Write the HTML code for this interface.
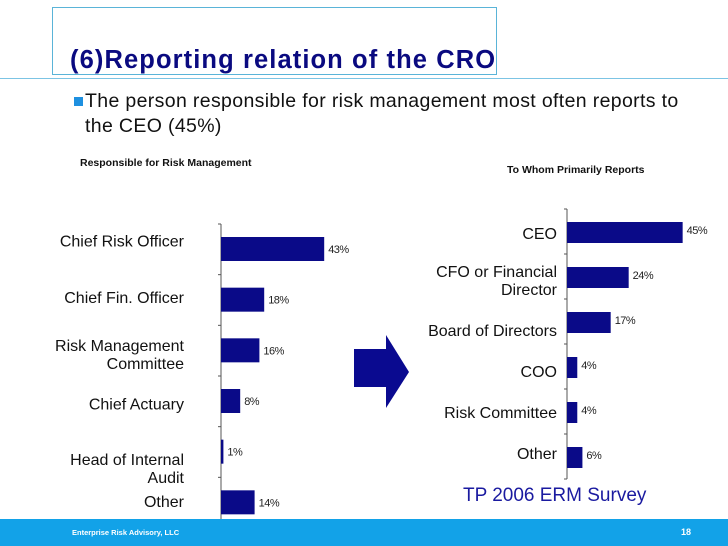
<!DOCTYPE html>
<html><head><meta charset="utf-8"><style>
body{margin:0;width:728px;height:546px;overflow:hidden;background:#fff;font-family:"Liberation Sans",Arial,sans-serif;position:relative}
.abs{position:absolute}
</style></head><body>
<div class="abs" style="left:52px;top:7px;width:443px;height:66px;border:1px solid #5ab4d8"></div>
<div class="abs" style="left:0;top:78px;width:728px;height:1px;background:#7cc4e4"></div>
<div class="abs" style="left:70px;top:46px;font-size:25.5px;font-weight:bold;color:#0a0a80;letter-spacing:1.1px;font-family:'Liberation Sans',Arial,sans-serif">(6)Reporting relation of the CRO</div>
<div class="abs" style="left:74px;top:97px;width:9px;height:9px;background:#1e90e0"></div>
<div class="abs" style="left:85px;top:89px;font-size:19.5px;line-height:25px;letter-spacing:0.35px;color:#111;width:640px">The person responsible for risk management most often reports to<br>the CEO (45%)</div>
<div class="abs" style="left:80px;top:157px;font-size:10.5px;font-weight:bold;color:#111">Responsible for Risk Management</div>
<div class="abs" style="left:507px;top:164px;font-size:10.5px;font-weight:bold;color:#111">To Whom Primarily Reports</div>
<svg class="abs" style="left:0;top:0" width="728" height="546">
<g id="lc"></g>
<g id="rc"></g>
<polygon points="354,349 386,349 386,335 409,372 386,408 386,387 354,387" fill="#0a0a90"/>
</svg>
<div class="abs" style="left:463px;top:485px;font-size:19px;color:#1a1aa0">TP 2006 ERM Survey</div>
<div class="abs" style="left:0;top:519px;width:728px;height:27px;background:#12a2e8"></div>
<div class="abs" style="left:72px;top:528px;font-size:7.5px;font-weight:bold;color:#fff">Enterprise Risk Advisory, LLC</div>
<div class="abs" style="left:681px;top:527px;font-size:9px;font-weight:bold;color:#fff">18</div>
<script>
const leftCats=["Chief Risk Officer","Chief Fin. Officer","Risk Management|Committee","Chief Actuary","Head of Internal|Audit","Other"];
const leftVals=[43,18,16,8,1,14];
const rightCats=["CEO","CFO or Financial|Director","Board of Directors","COO","Risk Committee","Other"];
const rightVals=[45,24,17,4,4,6];
const leftLabelShift=[-8,-2,4,3,17,-1];
const rightLabelShift=[1,3,8,4,0,-4];
const NS="http://www.w3.org/2000/svg";
function mk(t,a,p){const e=document.createElementNS(NS,t);for(const k in a)e.setAttribute(k,a[k]);p.appendChild(e);return e;}
function draw(g,cats,vals,shift,o){
  const band=(o.bottom-o.top)/cats.length;
  const x=v=>o.x0+v*o.scale;
  const ax=mk('line',{x1:o.x0,y1:o.top,x2:o.x0,y2:o.bottom,stroke:'#555','stroke-width':1},g);
  
  for(let i=0;i<=cats.length;i++){const t=mk('line',{x1:o.x0-3,x2:o.x0,y1:o.top+i*band,y2:o.top+i*band,stroke:'#555'},g);
    }
  cats.forEach((c,i)=>{
    const y=o.top+i*band+o.off;
    const r=mk('rect',{x:o.x0,y:y,width:Math.max(1.5,x(vals[i])-o.x0),height:o.bh,fill:'#0a0a88'},g);
    
    const lb=mk('text',{x:x(vals[i])+o.lx,y:y+o.ly,'font-size':11,fill:'#222',style:'letter-spacing:-0.5px'},g);
    lb.textContent=vals[i]+'%';
    const lines=c.split('|');
    const cy=y+o.bh/2+shift[i];
    const tx=mk('text',{x:o.labX,y:cy+5.5-(lines.length-1)*o.lh/2,'font-size':16,fill:'#111','text-anchor':'end'},g);
    
    lines.forEach((l,j)=>{const ts=mk('tspan',{x:o.labX,dy:j?o.lh:0},tx);ts.textContent=l;});
  });
}
draw(document.getElementById('lc'),leftCats,leftVals,leftLabelShift,{x0:221,top:224,bottom:528,scale:2.4,off:13,bh:24,lx:4,ly:16,labX:184,lh:18});
draw(document.getElementById('rc'),rightCats,rightVals,rightLabelShift,{x0:567,top:209,bottom:479,scale:2.57,off:13,bh:21,lx:4,ly:12,labX:557,lh:18});
</script>
</body></html>
